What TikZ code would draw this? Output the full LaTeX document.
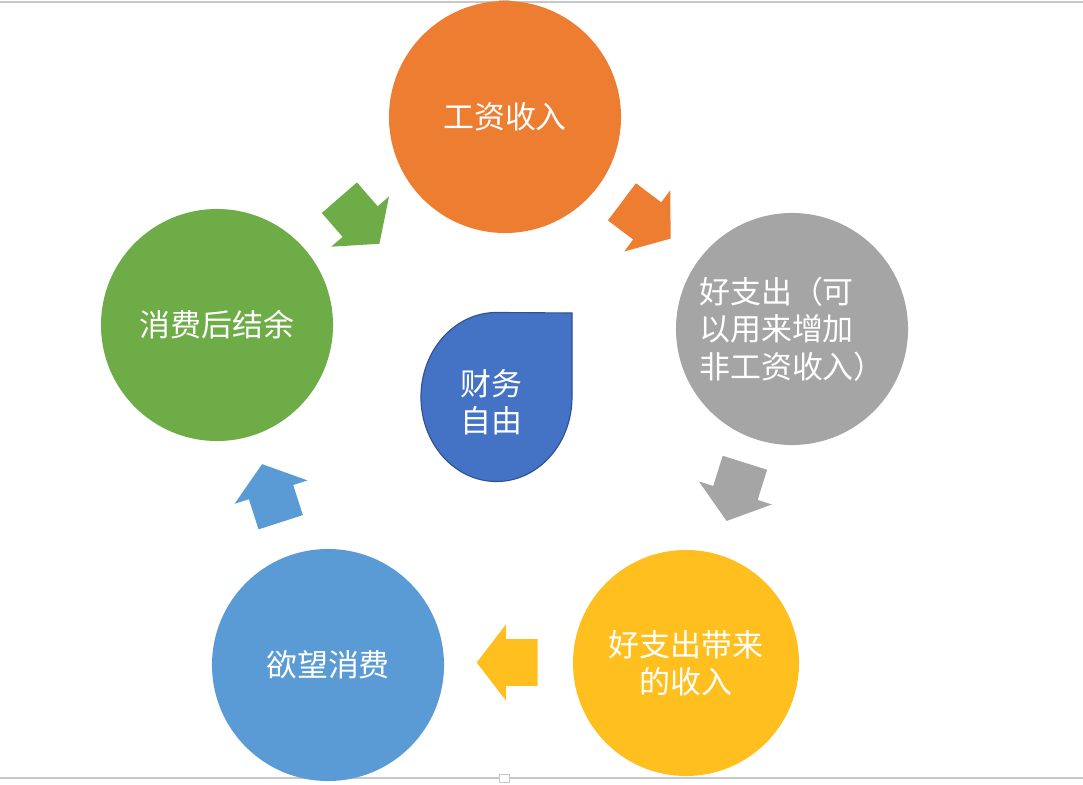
\documentclass[tikz,border=0pt]{standalone}
\usepackage{fontspec}
\usepackage{xcolor}
\usetikzlibrary{shapes.arrows}
\newfontfamily\cjk{Noto Sans CJK SC}
\definecolor{cycOrange}{HTML}{ED7D31}
\definecolor{cycGray}{HTML}{A5A5A5}
\definecolor{cycGold}{HTML}{FFBF1F}
\definecolor{cycBlue}{HTML}{5B9BD5}
\definecolor{cycGreen}{HTML}{6DAC47}
\definecolor{dropBlue}{HTML}{4472C4}
\definecolor{dropEdge}{HTML}{2F528F}
\definecolor{frameGray}{HTML}{C8C8C8}

\begin{document}
\begin{tikzpicture}[
    x=0.025cm, y=0.025cm,
    font=\cjk\fontsize{22}{26.5}\selectfont,
    stage/.style={circle, minimum size=5.8cm, inner sep=0pt, text=white, align=center},
    turn/.style={single arrow, draw=none, inner xsep=0pt, inner ysep=0.575cm, anchor=tail,
      minimum height=1.525cm, minimum width=1.9cm,
      single arrow head extend=0.375cm, single arrow tip angle=105},
    handle/.style={draw=frameGray, fill=white, minimum width=0.25cm, minimum height=0.2cm, inner sep=0pt}
  ]
    \useasboundingbox (0,0) rectangle (1083,784);
    % frame of the screenshot
    \draw[frameGray, line width=1.4pt] (0,782) -- (1083,782);
    \draw[frameGray, line width=1.4pt] (0,6) -- (1083,6);
    \node[handle] (htop) at (504,780) {};
    \node[handle] (hbot) at (504,6) {};
    % the five stages
    \node[stage, fill=cycOrange] (wage) at (505,667) {工资收入};
    \node[stage, fill=cycGray, align=left] (spend) at (792,455) {好支出（可\\以用来增加\\非工资收入）};
    \node[stage, fill=cycGold, minimum size=5.65cm] (gain) at (686,121) {好支出带来\\的收入};
    \node[stage, fill=cycBlue] (wish) at (328,119) {欲望消费};
    \node[stage, fill=cycGreen] (rest) at (217,459) {消费后结余};
    % arrows between the stages
    \node[turn, fill=cycOrange, rotate=-37] (a1) at (621.7,582.3) {};
    \node[turn, fill=cycGray, rotate=-107.5] (a2) at (745,321.5) {};
    \node[turn, fill=cycGold, rotate=180] (a3) at (538,121.5) {};
    \node[turn, fill=cycBlue, rotate=107.8] (a4) at (280.8,261.5) {};
    \node[turn, fill=cycGreen, rotate=-49] (a5) at (339.2,586.5) {};
    % centre drop
    \filldraw[fill=dropBlue, draw=dropEdge, line width=0.8pt] (572,471) -- (572,387)
      arc[start angle=0, end angle=-270, x radius=1.8875cm, y radius=2.1125cm] -- cycle;
    \node[text=white, align=center] (goal) at (491,382) {财务\\自由};
\end{tikzpicture}
\end{document}
